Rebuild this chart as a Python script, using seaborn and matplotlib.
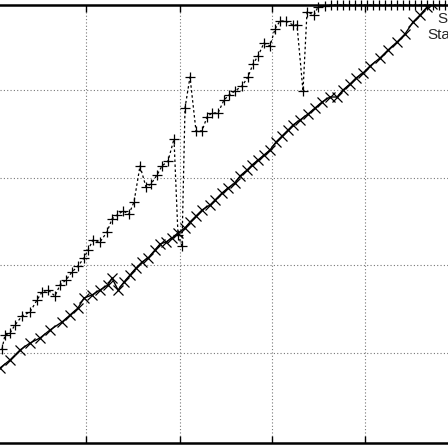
import matplotlib
matplotlib.use("Agg")
import matplotlib.pyplot as plt
import seaborn as sns
import pandas as pd

sns.set_theme(style="white")
plt.rcParams['font.family'] = ['Liberation Sans', 'DejaVu Sans']

# Series "x" (solid, x markers)
x_x = [0,10,20,30,40,50,62,70,78,84,92,100,108,112,118,124,130,136,142,148,155,160,166,172,178,185,190,196,202,210,215,222,228,235,240,247,252,258,264,270,276,282,288,293,300,308,315,322,330,337,343,350,356,363,370,380,388,397,405,413,420,427,432]
y_x = [368,360,350,343,338,330,322,315,308,298,295,290,285,278,290,282,275,268,262,258,250,244,242,238,233,228,222,216,210,205,200,193,188,183,176,170,165,160,155,150,142,136,130,125,120,114,108,102,97,97,90,84,78,73,66,58,50,42,34,22,15,7,4]
# Series "+" (dotted, + markers)
x_p = [2,5,10,15,22,30,37,42,48,55,60,66,72,78,84,88,93,100,107,112,117,123,129,134,140,146,151,157,162,168,174,178,182,185,190,196,202,207,212,218,224,229,235,242,248,253,258,264,270,275,280,286,293,297,303,307,314,318,325,331,337,343,349,355,361,367,373,379,385,391,397,403,409,415,421,427,433,439,445]
y_p = [349,335,333,325,316,312,300,292,290,296,285,280,272,266,258,250,240,242,232,219,215,211,214,202,166,187,184,175,166,161,139,235,246,108,77,131,131,117,113,113,100,95,91,86,77,64,56,43,46,29,21,21,25,25,91,12,15,7,6,5,5,5,5,5,5,5,5,5,5,5,5,5,5,5,5,5,5,5,5]

H = 448
df_x = pd.DataFrame({"x": x_x, "y": [H - v for v in y_x]})
df_p = pd.DataFrame({"x": x_p, "y": [H - v for v in y_p]})

fig = plt.figure(figsize=(4.48, 4.48), dpi=100)
ax = fig.add_axes([0, 5/448, 1, 438/448])
sns.lineplot(data=df_p, x="x", y="y", ax=ax, color="black", lw=0.9, linestyle=(0, (2, 2)),
             marker="+", markersize=7, markeredgewidth=0.9, markeredgecolor="black",
             estimator=None, sort=False, clip_on=False)
sns.lineplot(data=df_x, x="x", y="y", ax=ax, color="black", lw=1.0,
             marker="x", markersize=7, markeredgewidth=0.9, markeredgecolor="black",
             estimator=None, sort=False)
ax.set_xlim(0, 448)
ax.set_ylim(5, 443)
ax.set_xticks([86, 180, 272, 365])
ax.set_yticks([H - 353, H - 265, H - 178, H - 90])
ax.set_xticklabels([]); ax.set_yticklabels([])
ax.set_xlabel(""); ax.set_ylabel("")
ax.grid(True, color="#777777", linestyle=(0, (1, 2)), linewidth=0.8)
ax.tick_params(axis="x", direction="in", length=5, width=1, top=True, bottom=True, color="black")
ax.tick_params(axis="y", length=0)
for s in ["left", "right"]:
    ax.spines[s].set_visible(False)
for s in ["top", "bottom"]:
    ax.spines[s].set_color("black"); ax.spines[s].set_linewidth(1.8)
ax.text(437, H - 19, "S", fontsize=11, va="center", ha="left", clip_on=False)
ax.text(427, H - 35, "Sta", fontsize=11, va="center", ha="left", clip_on=False,
        bbox=dict(facecolor="white", edgecolor="none", pad=0.5))
fig.savefig("out.png", dpi=100)
